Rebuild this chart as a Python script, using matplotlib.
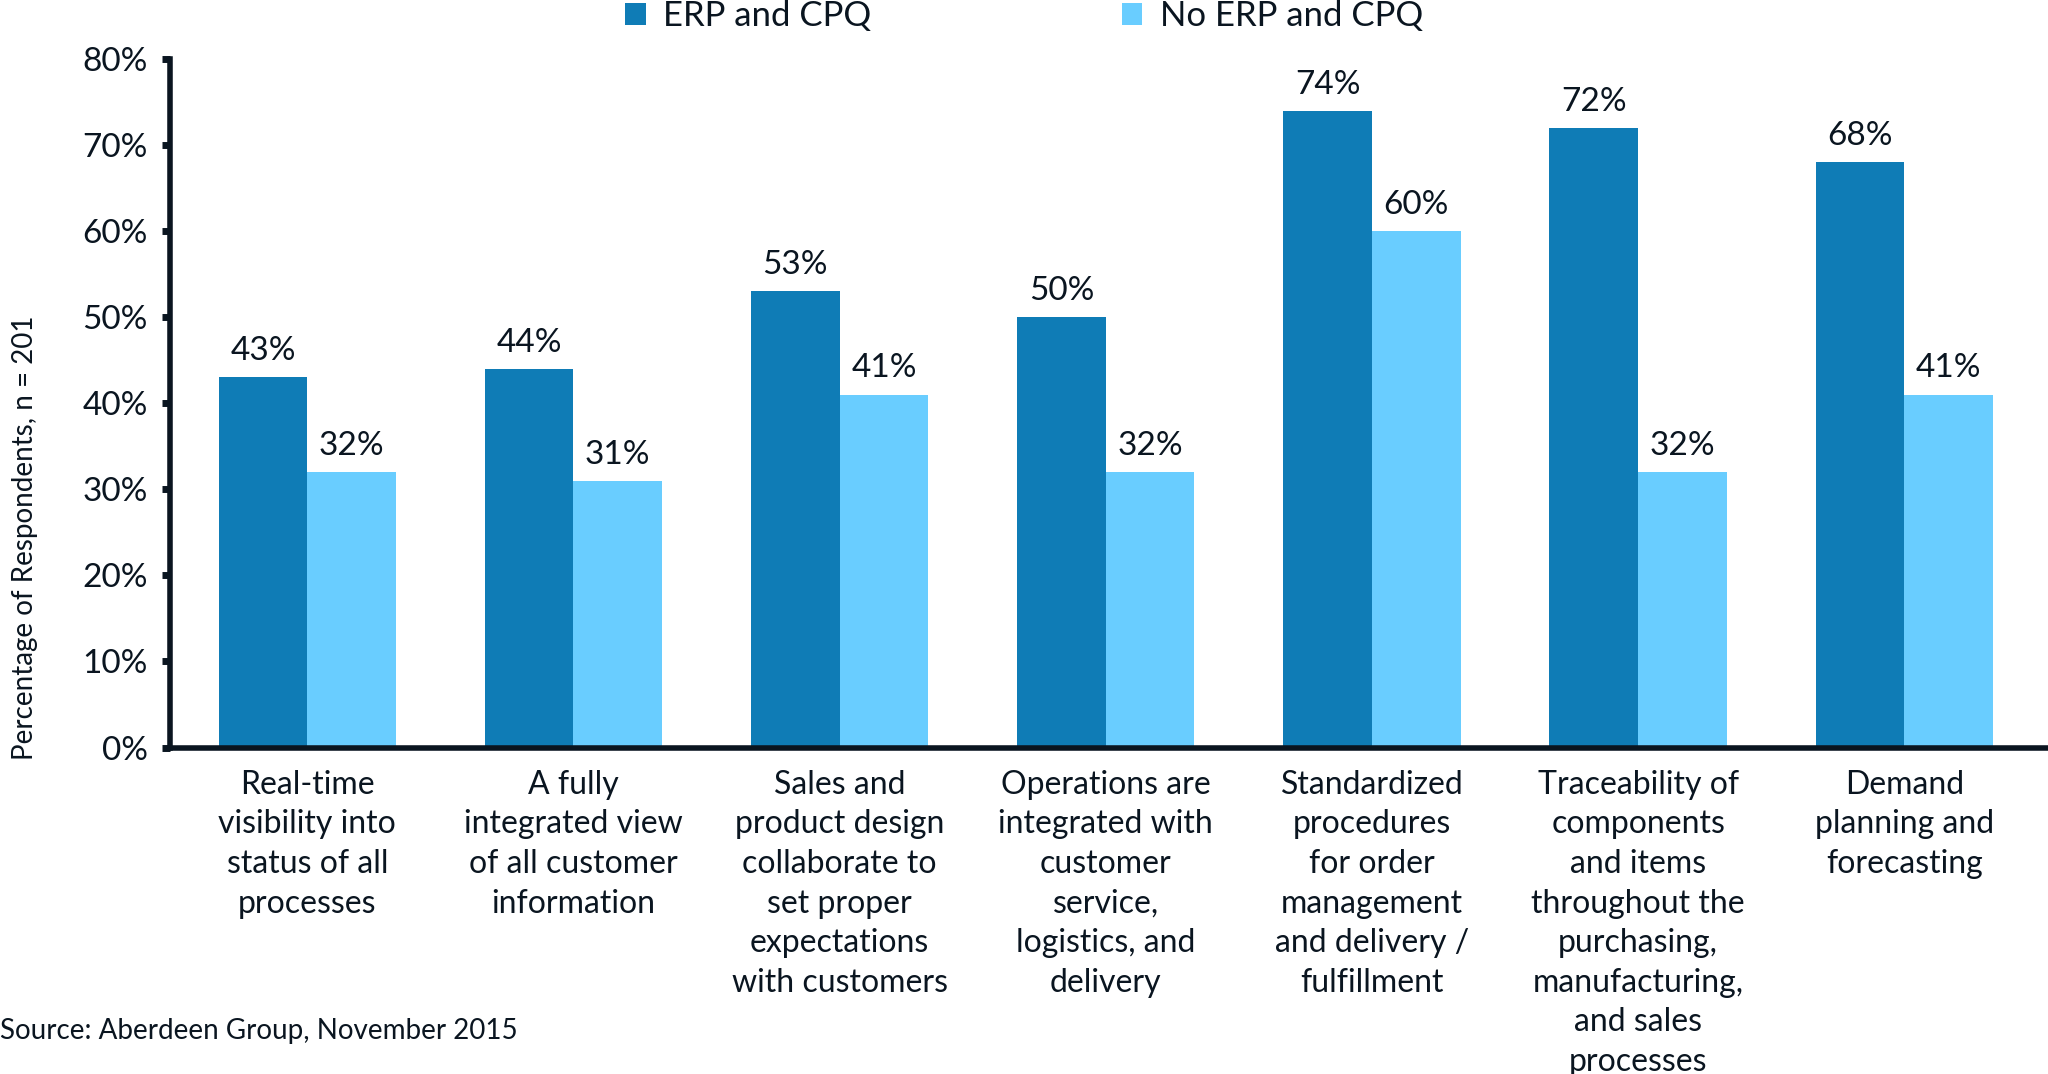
import matplotlib.pyplot as plt
import numpy as np

categories = [
    "Real-time\nvisibility into\nstatus of all\nprocesses",
    "A fully\nintegrated view\nof all customer\ninformation",
    "Sales and\nproduct design\ncollaborate to\nset proper\nexpectations\nwith customers",
    "Operations are\nintegrated with\ncustomer\nservice,\nlogistics, and\ndelivery",
    "Standardized\nprocedures\nfor order\nmanagement\nand delivery /\nfulfillment",
    "Traceability of\ncomponents\nand items\nthroughout the\npurchasing,\nmanufacturing,\nand sales\nprocesses",
    "Demand\nplanning and\nforecasting",
]
erp_cpq = [43, 44, 53, 50, 74, 72, 68]
no_erp_cpq = [32, 31, 41, 32, 60, 32, 41]
series_names = ["ERP and CPQ", "No ERP and CPQ"]
yticks = [0, 10, 20, 30, 40, 50, 60, 70, 80]

dark = "#0F7CB6"
light = "#69CDFF"
ink = "#0A1520"

plt.rcParams['font.family'] = ['Lato', 'DejaVu Sans']

fig = plt.figure(figsize=(20.48, 10.74), dpi=100)
ax = fig.add_axes([0.083, 0.304, 0.917, 0.641])

x = np.arange(len(categories))
w = 0.333
b1 = ax.bar(x - w / 2, erp_cpq, w, color=dark, label=series_names[0])
b2 = ax.bar(x + w / 2, no_erp_cpq, w, color=light, label=series_names[1])

for bars, vals in ((b1, erp_cpq), (b2, no_erp_cpq)):
    for rect, v in zip(bars, vals):
        ax.text(rect.get_x() + rect.get_width() / 2, v + 1.3, f"{v}%",
                ha='center', va='bottom', fontsize=24, color=ink)

ax.set_xlim(-0.516, 6.54)
ax.set_ylim(0, 80)
ax.set_yticks(yticks)
ax.set_yticklabels([f"{t}%" for t in yticks], fontsize=24, color=ink)
ax.tick_params(axis='y', length=6, width=5, color=ink, pad=10)
ax.set_xticks(x)
ax.set_xticklabels(categories, fontsize=23, color=ink, linespacing=1.4, va='top')
ax.tick_params(axis='x', length=0, pad=16)

for s in ('top', 'right'):
    ax.spines[s].set_visible(False)
for s in ('left', 'bottom'):
    ax.spines[s].set_linewidth(4)
    ax.spines[s].set_color(ink)
    ax.spines[s].set_capstyle('projecting')

fig.text(0.006, 0.499, "Percentage of Respondents, n = 201", rotation=90,
         fontsize=20, color=ink, ha='left', va='center')
fig.text(0.0, 0.04, "Source: Aberdeen Group, November 2015", fontsize=20,
         color=ink, ha='left', va='center')

fig.legend(handles=[b1, b2], labels=series_names, loc='center',
           bbox_to_anchor=(0.5, 0.985), ncol=2, frameon=False, fontsize=25,
           handlelength=0.6, handleheight=0.6, handletextpad=0.5,
           columnspacing=7.2, labelcolor=ink)

fig.savefig("out.png", dpi=100)
